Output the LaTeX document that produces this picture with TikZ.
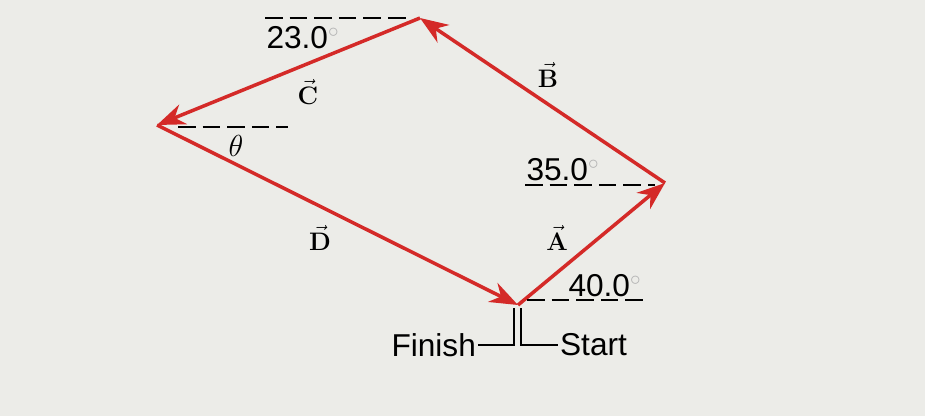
\documentclass[tikz,border=0pt]{standalone}
\usepackage{amsmath}
\usepackage[no-math]{fontspec}
\setmainfont{Liberation Sans}
\usepackage{xcolor}
\usetikzlibrary{arrows.meta}
\definecolor{vecred}{RGB}{212,42,40}
\definecolor{paper}{RGB}{236,236,232}

\begin{document}
\begin{tikzpicture}[x=0.02cm,y=-0.02cm]%%trip

        \tikzstyle{vec}  = [draw=vecred, line width=2pt, -{Stealth[length=16pt,width=12pt]}]
        \tikzstyle{refline} = [draw, line width=1pt, dash pattern=on 10pt off 4pt]
        \tikzstyle{num}  = [font=\fontsize{18}{20}\selectfont, inner sep=1pt]
        \tikzstyle{vlbl} = [font=\fontsize{15}{17}\selectfont, inner sep=1pt]
        \fill[paper] (0,0) rectangle (925,416);

        \coordinate (start) at (518,305);
        \coordinate (p1) at (665,183);
        \coordinate (p2) at (420,18);
        \coordinate (p3) at (157,125);
        \foreach \a/\b in {start/p1, p1/p2, p2/p3, p3/start}
        {
                \draw[vec] (\a) -- (\b);
        }

        % reference lines
        \coordinate (r1a) at (265,18);  \coordinate (r1b) at (410,18);
        \coordinate (r2a) at (178,127); \coordinate (r2b) at (288,127);
        \coordinate (r3a) at (525,185); \coordinate (r3b) at (655,185);
        \coordinate (r4a) at (527,300); \coordinate (r4b) at (645,300);
        \foreach \i in {1,...,4}
        {
                \draw[refline] (r\i a) -- (r\i b);
        }
        \node [num](ang1) at (303,38) {23.0\textcolor{gray!60}{$^\circ$}};
        \node [num](ang2) at (236,146) {$\theta$};
        \node [num](ang3) at (563,170) {35.0\textcolor{gray!60}{$^\circ$}};
        \node [num](ang4) at (605,286) {40.0\textcolor{gray!60}{$^\circ$}};

        \node [vlbl](lA) at (557,238) {$\vec{\mathbf{A}}$};
        \node [vlbl](lB) at (548,75) {$\vec{\mathbf{B}}$};
        \node [vlbl](lC) at (308,92) {$\vec{\mathbf{C}}$};
        \node [vlbl](lD) at (320,238) {$\vec{\mathbf{D}}$};

        % start / finish post
        \coordinate (fl) at (514,308); \coordinate (fr) at (521,308);
        \coordinate (bl) at (514,345); \coordinate (br) at (521,345);
        \coordinate (fend) at (478,345); \coordinate (send) at (558,345);
        \draw[line width=1.2pt] (fl) -- (bl) -- (fend);
        \draw[line width=1.2pt] (fr) -- (br) -- (send);
        \node [num, anchor=east](fin) at (fend) {Finish};
        \node [num, anchor=west](sta) at (send) {Start};
\end{tikzpicture}
\end{document}
